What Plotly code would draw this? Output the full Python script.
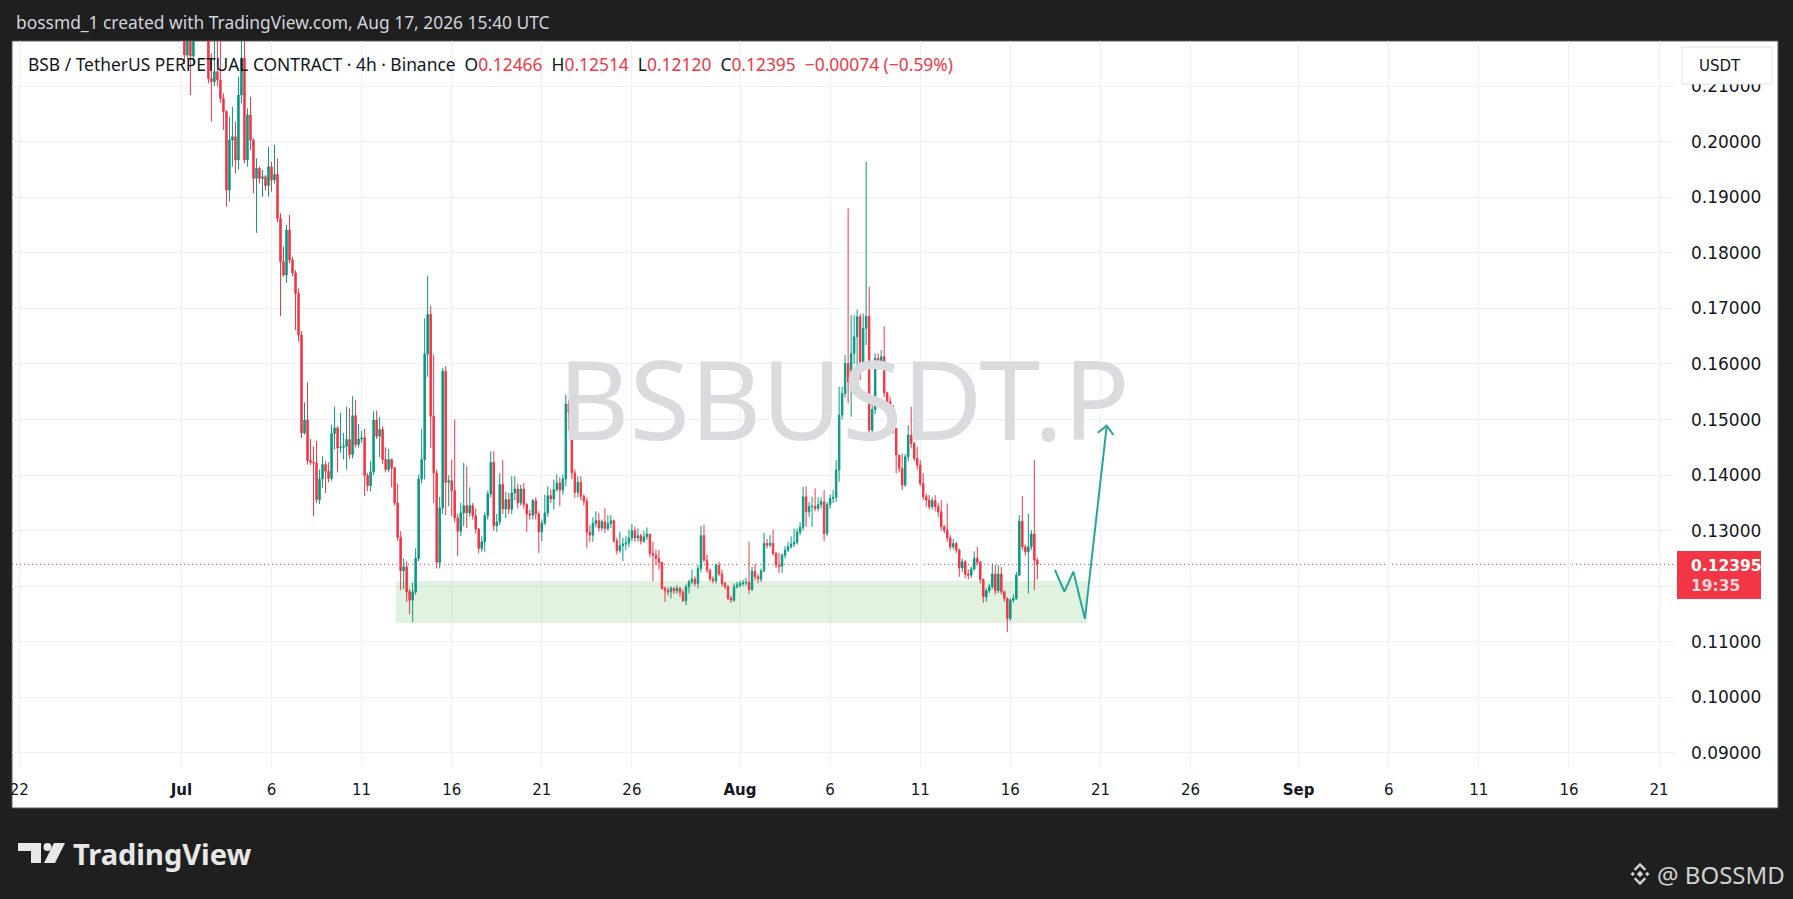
import plotly.graph_objects as go
from datetime import datetime, timedelta

# ---------------- data (4h candles, BSB/USDT perpetual) ----------------
first_candle = "2026-07-01 04:00"
first_open = 0.2230
last_open = 0.12466

closes = [
    0.2156, 0.2200, 0.2154, 0.2240, 0.2290, 0.2260, 0.2250, 0.2230, 0.2114, 0.2108,
    0.2126, 0.2111, 0.2078, 0.2054, 0.1913, 0.2003, 0.2009, 0.1967, 0.2084, 0.2150,
    0.1967, 0.2048, 0.2003, 0.1934, 0.1952, 0.1934, 0.1937, 0.1921, 0.1955, 0.1931,
    0.1941, 0.1862, 0.1784, 0.1760, 0.1841, 0.1787, 0.1764, 0.1727, 0.1652, 0.1476,
    0.1499, 0.1426, 0.1423, 0.1422, 0.1356, 0.1393, 0.1419, 0.1407, 0.1394, 0.1475,
    0.1485, 0.1449, 0.1450, 0.1452, 0.1464, 0.1437, 0.1507, 0.1455, 0.1465, 0.1467,
    0.1399, 0.1381, 0.1406, 0.1499, 0.1470, 0.1482, 0.1428, 0.1410, 0.1428, 0.1413,
    0.1350, 0.1288, 0.1228, 0.1235, 0.1190, 0.1175, 0.1190, 0.1250, 0.1393, 0.1428,
    0.1618, 0.1689, 0.1506, 0.1404, 0.1243, 0.1341, 0.1587, 0.1387, 0.1390, 0.1372,
    0.1323, 0.1299, 0.1332, 0.1345, 0.1332, 0.1345, 0.1327, 0.1303, 0.1268, 0.1280,
    0.1327, 0.1366, 0.1423, 0.1309, 0.1316, 0.1383, 0.1339, 0.1356, 0.1339, 0.1368,
    0.1375, 0.1350, 0.1375, 0.1347, 0.1330, 0.1328, 0.1354, 0.1330, 0.1298, 0.1314,
    0.1332, 0.1363, 0.1357, 0.1374, 0.1386, 0.1373, 0.1393, 0.1528, 0.1512, 0.1404,
    0.1369, 0.1387, 0.1362, 0.1353, 0.1297, 0.1292, 0.1313, 0.1318, 0.1305, 0.1316,
    0.1304, 0.1313, 0.1318, 0.1282, 0.1264, 0.1273, 0.1276, 0.1278, 0.1287, 0.1300,
    0.1287, 0.1291, 0.1281, 0.1289, 0.1294, 0.1259, 0.1256, 0.1250, 0.1243, 0.1196,
    0.1192, 0.1190, 0.1196, 0.1192, 0.1196, 0.1189, 0.1174, 0.1199, 0.1208, 0.1213,
    0.1205, 0.1232, 0.1291, 0.1247, 0.1229, 0.1213, 0.1210, 0.1238, 0.1222, 0.1205,
    0.1199, 0.1178, 0.1175, 0.1199, 0.1202, 0.1205, 0.1206, 0.1207, 0.1194, 0.1227,
    0.1217, 0.1213, 0.1228, 0.1277, 0.1274, 0.1277, 0.1259, 0.1238, 0.1236, 0.1256,
    0.1265, 0.1271, 0.1276, 0.1279, 0.1297, 0.1306, 0.1361, 0.1334, 0.1343, 0.1344,
    0.1340, 0.1347, 0.1352, 0.1295, 0.1347, 0.1358, 0.1360, 0.1409, 0.1508, 0.1547,
    0.1601, 0.1568, 0.1619, 0.1649, 0.1685, 0.1604, 0.1664, 0.1686, 0.1481, 0.1518,
    0.1610, 0.1604, 0.1613, 0.1548, 0.1532, 0.1493, 0.1484, 0.1436, 0.1412, 0.1382,
    0.1433, 0.1472, 0.1457, 0.1430, 0.1418, 0.1385, 0.1361, 0.1355, 0.1343, 0.1354,
    0.1343, 0.1334, 0.1307, 0.1301, 0.1287, 0.1271, 0.1277, 0.1265, 0.1233, 0.1244,
    0.1222, 0.1220, 0.1231, 0.1250, 0.1243, 0.1212, 0.1181, 0.1192, 0.1199, 0.1222,
    0.1192, 0.1222, 0.1190, 0.1178, 0.1142, 0.1175, 0.1178, 0.1220, 0.1317, 0.1271,
    0.1262, 0.1271, 0.1294, 0.12469, 0.12395,
]
highs = [
    0.2250, 0.2240, 0.2230, 0.2270, 0.2330, 0.2310, 0.2290, 0.2270, 0.2250, 0.2159,
    0.2200, 0.2190, 0.2200, 0.2087, 0.2057, 0.2045, 0.2063, 0.2036, 0.2117, 0.2200,
    0.2200, 0.2060, 0.2081, 0.2006, 0.1970, 0.1955, 0.1949, 0.1940, 0.1991, 0.1964,
    0.1994, 0.1970, 0.1871, 0.1811, 0.1850, 0.1868, 0.1793, 0.1769, 0.1736, 0.1659,
    0.1531, 0.1567, 0.1465, 0.1452, 0.1462, 0.1410, 0.1434, 0.1425, 0.1423, 0.1491,
    0.1523, 0.1488, 0.1512, 0.1476, 0.1523, 0.1521, 0.1542, 0.1535, 0.1492, 0.1480,
    0.1483, 0.1404, 0.1425, 0.1515, 0.1516, 0.1505, 0.1488, 0.1450, 0.1447, 0.1430,
    0.1415, 0.1385, 0.1299, 0.1250, 0.1245, 0.1195, 0.1206, 0.1268, 0.1401, 0.1483,
    0.1682, 0.1759, 0.1705, 0.1617, 0.1410, 0.1361, 0.1593, 0.1596, 0.1400, 0.1428,
    0.1500, 0.1330, 0.1350, 0.1422, 0.1416, 0.1378, 0.1350, 0.1340, 0.1305, 0.1290,
    0.1333, 0.1372, 0.1443, 0.1443, 0.1330, 0.1404, 0.1427, 0.1370, 0.1368, 0.1398,
    0.1398, 0.1385, 0.1383, 0.1386, 0.1350, 0.1338, 0.1357, 0.1360, 0.1335, 0.1320,
    0.1365, 0.1380, 0.1374, 0.1392, 0.1401, 0.1396, 0.1401, 0.1545, 0.1536, 0.1512,
    0.1410, 0.1398, 0.1398, 0.1365, 0.1360, 0.1310, 0.1324, 0.1335, 0.1332, 0.1320,
    0.1340, 0.1328, 0.1328, 0.1320, 0.1287, 0.1298, 0.1287, 0.1290, 0.1302, 0.1312,
    0.1307, 0.1304, 0.1295, 0.1300, 0.1306, 0.1294, 0.1280, 0.1266, 0.1265, 0.1244,
    0.1200, 0.1198, 0.1200, 0.1199, 0.1202, 0.1199, 0.1194, 0.1203, 0.1212, 0.1230,
    0.1218, 0.1238, 0.1309, 0.1311, 0.1257, 0.1232, 0.1218, 0.1241, 0.1244, 0.1230,
    0.1208, 0.1202, 0.1183, 0.1205, 0.1208, 0.1210, 0.1212, 0.1215, 0.1280, 0.1235,
    0.1240, 0.1222, 0.1232, 0.1296, 0.1285, 0.1292, 0.1301, 0.1262, 0.1260, 0.1259,
    0.1272, 0.1280, 0.1290, 0.1304, 0.1304, 0.1315, 0.1379, 0.1380, 0.1352, 0.1361,
    0.1376, 0.1360, 0.1360, 0.1373, 0.1352, 0.1365, 0.1373, 0.1427, 0.1559, 0.1559,
    0.1616, 0.1880, 0.1688, 0.1688, 0.1698, 0.1690, 0.1691, 0.1964, 0.1739, 0.1541,
    0.1619, 0.1619, 0.1625, 0.1668, 0.1550, 0.1541, 0.1526, 0.1484, 0.1436, 0.1439,
    0.1438, 0.1490, 0.1523, 0.1460, 0.1451, 0.1427, 0.1403, 0.1367, 0.1364, 0.1360,
    0.1364, 0.1350, 0.1355, 0.1310, 0.1349, 0.1292, 0.1285, 0.1280, 0.1268, 0.1250,
    0.1247, 0.1230, 0.1236, 0.1263, 0.1271, 0.1246, 0.1214, 0.1196, 0.1204, 0.1241,
    0.1238, 0.1238, 0.1235, 0.1192, 0.1180, 0.1178, 0.1185, 0.1226, 0.1328, 0.1362,
    0.1275, 0.1330, 0.1301, 0.1427, 0.12514,
]
lows = [
    0.2140, 0.2150, 0.2084, 0.2140, 0.2225, 0.2230, 0.2215, 0.2200, 0.2105, 0.2036,
    0.2100, 0.2100, 0.2070, 0.2021, 0.1883, 0.1892, 0.1955, 0.1943, 0.1950, 0.2070,
    0.1961, 0.1955, 0.1985, 0.1907, 0.1836, 0.1925, 0.1901, 0.1912, 0.1901, 0.1910,
    0.1925, 0.1855, 0.1686, 0.1757, 0.1746, 0.1781, 0.1758, 0.1661, 0.1640, 0.1467,
    0.1473, 0.1419, 0.1418, 0.1326, 0.1350, 0.1348, 0.1377, 0.1368, 0.1387, 0.1390,
    0.1446, 0.1405, 0.1440, 0.1428, 0.1410, 0.1429, 0.1430, 0.1450, 0.1450, 0.1458,
    0.1362, 0.1371, 0.1371, 0.1400, 0.1465, 0.1432, 0.1420, 0.1405, 0.1405, 0.1378,
    0.1345, 0.1282, 0.1193, 0.1195, 0.1172, 0.1150, 0.1136, 0.1185, 0.1245, 0.1385,
    0.1392, 0.1577, 0.1449, 0.1350, 0.1232, 0.1232, 0.1330, 0.1328, 0.1344, 0.1326,
    0.1315, 0.1254, 0.1290, 0.1308, 0.1305, 0.1325, 0.1320, 0.1295, 0.1259, 0.1262,
    0.1262, 0.1320, 0.1360, 0.1300, 0.1298, 0.1310, 0.1330, 0.1323, 0.1330, 0.1330,
    0.1355, 0.1340, 0.1345, 0.1340, 0.1298, 0.1320, 0.1320, 0.1320, 0.1260, 0.1281,
    0.1310, 0.1325, 0.1350, 0.1338, 0.1370, 0.1344, 0.1365, 0.1380, 0.1480, 0.1393,
    0.1359, 0.1360, 0.1355, 0.1345, 0.1269, 0.1280, 0.1280, 0.1306, 0.1298, 0.1300,
    0.1296, 0.1300, 0.1305, 0.1278, 0.1257, 0.1260, 0.1245, 0.1265, 0.1270, 0.1281,
    0.1280, 0.1280, 0.1275, 0.1278, 0.1283, 0.1252, 0.1209, 0.1238, 0.1230, 0.1194,
    0.1172, 0.1183, 0.1178, 0.1186, 0.1186, 0.1181, 0.1172, 0.1166, 0.1187, 0.1203,
    0.1200, 0.1196, 0.1225, 0.1244, 0.1224, 0.1209, 0.1205, 0.1205, 0.1218, 0.1200,
    0.1195, 0.1175, 0.1170, 0.1172, 0.1196, 0.1198, 0.1200, 0.1201, 0.1186, 0.1192,
    0.1210, 0.1205, 0.1208, 0.1225, 0.1268, 0.1270, 0.1255, 0.1233, 0.1224, 0.1224,
    0.1250, 0.1262, 0.1268, 0.1270, 0.1275, 0.1292, 0.1300, 0.1307, 0.1325, 0.1307,
    0.1335, 0.1335, 0.1340, 0.1281, 0.1290, 0.1340, 0.1350, 0.1352, 0.1388, 0.1500,
    0.1540, 0.1529, 0.1505, 0.1600, 0.1592, 0.1571, 0.1600, 0.1634, 0.1469, 0.1469,
    0.1510, 0.1590, 0.1595, 0.1540, 0.1523, 0.1485, 0.1475, 0.1403, 0.1405, 0.1373,
    0.1379, 0.1425, 0.1448, 0.1425, 0.1410, 0.1380, 0.1355, 0.1343, 0.1338, 0.1338,
    0.1335, 0.1325, 0.1300, 0.1295, 0.1280, 0.1265, 0.1266, 0.1260, 0.1217, 0.1226,
    0.1215, 0.1212, 0.1215, 0.1228, 0.1238, 0.1205, 0.1170, 0.1172, 0.1188, 0.1195,
    0.1185, 0.1188, 0.1185, 0.1172, 0.1118, 0.1138, 0.1170, 0.1175, 0.1218, 0.1265,
    0.1255, 0.1187, 0.1265, 0.1193, 0.12120,
]

header_text = "bossmd_1 created with TradingView.com, Aug 17, 2026 15:40 UTC"
symbol_text = "BSB / TetherUS PERPETUAL CONTRACT · 4h · Binance"
watermark_text = "BSBUSDT.P"
currency_text = "USDT"
countdown_text = "19:35"

x_tick_dates = ["2026-06-22", "2026-07-01", "2026-07-06", "2026-07-11", "2026-07-16",
                "2026-07-21", "2026-07-26", "2026-08-01", "2026-08-06", "2026-08-11",
                "2026-08-16", "2026-08-21", "2026-08-26", "2026-09-01", "2026-09-06",
                "2026-09-11", "2026-09-16", "2026-09-21"]
x_tick_labels = ["22", "<b>Jul</b>", "6", "11", "16", "21", "26", "<b>Aug</b>", "6", "11",
                 "16", "21", "26", "<b>Sep</b>", "6", "11", "16", "21"]
y_tick_values = [0.09, 0.10, 0.11, 0.12, 0.13, 0.14, 0.15, 0.16, 0.17, 0.18, 0.19, 0.20, 0.21]

zone_start, zone_end = "2026-07-12 21:50", "2026-08-20 06:30"
zone_top, zone_bottom = 0.12095, 0.11339

path_times = ["2026-08-18 11:30", "2026-08-19 00:00", "2026-08-19 12:00",
              "2026-08-20 03:22", "2026-08-21 08:24"]
path_prices = [0.12293, 0.11902, 0.12262, 0.11416, 0.14889]
head_times = ["2026-08-20 20:24", "2026-08-21 08:24", "2026-08-21 17:17"]
head_prices = [0.14763, 0.14889, 0.14722]

x_range = ["2026-06-21 14:24", "2026-09-21 22:34"]
y_range = [0.087475, 0.218121]

# ---------------- derived ----------------
assert len(closes) == len(highs) == len(lows)
t0 = datetime.strptime(first_candle, "%Y-%m-%d %H:%M")
times = [t0 + timedelta(hours=4 * i) for i in range(len(closes))]
opens = [first_open] + closes[:-1]
opens[-1] = last_open
prev_close = closes[-2]
chg = closes[-1] - prev_close
pct = chg / prev_close * 100


def signed(v, nd):
    return f"{v:+.{nd}f}".replace("-", "\u2212")


UP, DOWN = "#089981", "#f23645"
TXT = "#131722"
FONT = "Noto Sans"
AXF = "DejaVu Sans"
W, H = 1793, 899
PL, PR, PT, PB = 12, 1676, 41, 767


def px(x):
    return (x - PL) / (PR - PL)


def py(y):
    return (PB - y) / (PB - PT)


def poly(pts, close=True):
    s = "M " + " L ".join(f"{px(a):.6f},{py(b):.6f}" for a, b in pts)
    return s + (" Z" if close else "")


fig = go.Figure()

# watermark centred in the pane
t_lo = datetime.strptime(x_range[0], "%Y-%m-%d %H:%M")
t_hi = datetime.strptime(x_range[1], "%Y-%m-%d %H:%M")
fig.add_trace(go.Scatter(
    x=[t_lo + (t_hi - t_lo) / 2], y=[(y_range[0] + y_range[1]) / 2 - 0.0015],
    mode="text", text=[watermark_text], textposition="middle center",
    textfont=dict(family=FONT, size=110, color="#dadbde"),
    hoverinfo="skip", showlegend=False, cliponaxis=True))

fig.add_trace(go.Candlestick(
    x=times, open=opens, high=highs, low=lows, close=closes,
    increasing=dict(line=dict(color=UP, width=1), fillcolor=UP),
    decreasing=dict(line=dict(color=DOWN, width=1), fillcolor=DOWN),
    whiskerwidth=0, hoverinfo="skip", showlegend=False))

fig.add_trace(go.Scatter(x=path_times, y=path_prices, mode="lines",
                         line=dict(color="#26a69a", width=2), hoverinfo="skip", showlegend=False))
fig.add_trace(go.Scatter(x=head_times, y=head_prices, mode="lines",
                         line=dict(color="#26a69a", width=2), hoverinfo="skip", showlegend=False))

shapes = [
    # white chart frame
    dict(type="rect", xref="paper", yref="paper", x0=px(12), x1=px(1778), y0=py(808), y1=py(41),
         fillcolor="#ffffff", line=dict(color="#5d5d5d", width=1), layer="below"),
    # support zone
    dict(type="rect", xref="x", yref="y", x0=zone_start, x1=zone_end, y0=zone_bottom, y1=zone_top,
         fillcolor="rgba(76,175,80,0.17)", line=dict(width=0), layer="between"),
    # last price line
    dict(type="line", xref="paper", yref="y", x0=0, x1=1, y0=closes[-1], y1=closes[-1],
         line=dict(color=DOWN, width=1, dash="1px,3px"), layer="between"),
    # price label box
    dict(type="rect", xref="paper", yref="paper", x0=px(1677), x1=px(1761), y0=py(599), y1=py(551),
         fillcolor=DOWN, line=dict(width=0), layer="above"),
    # currency button
    dict(type="rect", xref="paper", yref="paper", x0=px(1682), x1=px(1772), y0=py(84), y1=py(47),
         fillcolor="#ffffff", line=dict(color="#e0e3eb", width=1), layer="above"),
    # TradingView logo
    dict(type="path", xref="paper", yref="paper", layer="above", fillcolor="#e8e8e8", line=dict(width=0),
         path=poly([(18, 843), (41, 843), (41, 863), (31, 863), (31, 851), (18, 851)])),
    dict(type="circle", xref="paper", yref="paper", layer="above", fillcolor="#e8e8e8", line=dict(width=0),
         x0=px(43.5), x1=px(51.5), y0=py(851), y1=py(843)),
    dict(type="path", xref="paper", yref="paper", layer="above", fillcolor="#e8e8e8", line=dict(width=0),
         path=poly([(54, 843), (65, 843), (55, 863), (44, 863)])),
]
# Binance mark
cx, cy = 1640, 874
for (dx, dy, r) in [(0, 0, 3.2), (-7.3, 0, 2.2), (7.3, 0, 2.2)]:
    shapes.append(dict(type="path", xref="paper", yref="paper", layer="above", fillcolor="#d0d0d0",
                       line=dict(width=0),
                       path=poly([(cx + dx, cy + dy - r), (cx + dx + r, cy + dy), (cx + dx, cy + dy + r),
                                  (cx + dx - r, cy + dy)])))
for sgn in (-1, 1):
    shapes.append(dict(type="path", xref="paper", yref="paper", layer="above",
                       line=dict(color="#d0d0d0", width=2.4),
                       path=poly([(cx - 5.3, cy + sgn * 4.2), (cx, cy + sgn * 9.5), (cx + 5.3, cy + sgn * 4.2)],
                                 close=False)))

red = f"<span style='color:{DOWN}'>"
title_html = (f"{symbol_text}\u00a0\u00a0O{red}{opens[-1]:.5f}</span>\u00a0\u00a0H{red}{highs[-1]:.5f}</span>"
              f"\u00a0\u00a0L{red}{lows[-1]:.5f}</span>\u00a0\u00a0C{red}{closes[-1]:.5f}</span>"
              f"\u00a0\u00a0{red}{signed(chg, 5)} ({signed(pct, 2)}%)</span>")
price_label = (f"<b>{closes[-1]:.5f}</b><br>"
               f"<span style='color:rgba(255,255,255,0.82)'><b>{countdown_text}</b></span>")

annotations = [
    dict(text=header_text, x=px(14), y=py(22), xanchor="left", yanchor="middle",
         font=dict(family=FONT, size=17.4, color="#d1d4dc")),
    dict(text=title_html, x=px(26), y=py(64), xanchor="left", yanchor="middle",
         font=dict(family=FONT, size=17.4, color=TXT)),
    dict(text=currency_text, x=px(1697), y=py(66), xanchor="left", yanchor="middle",
         font=dict(family=AXF, size=15, color=TXT)),
    dict(text=price_label, x=px(1689), y=py(575.5), xanchor="left", yanchor="middle", align="left",
         font=dict(family=AXF, size=15.5, color="#ffffff")),
    dict(text="<b>TradingView</b>", x=px(71), y=py(853), xanchor="left", yanchor="middle",
         font=dict(family=FONT, size=29, color="#e8e8e8")),
    dict(text="@ BOSSMD", x=px(1655), y=py(874), xanchor="left", yanchor="middle",
         font=dict(family=FONT, size=24, color="#d0d0d0")),
]
for a in annotations:
    a.update(xref="paper", yref="paper", showarrow=False)

# the axis label that sits under the last-price box is hidden, as on the original chart
y_tick_text = ["" if abs(v - closes[-1]) < 0.0045 else f"{v:.5f}" for v in y_tick_values]

fig.update_layout(
    template="none", width=W, height=H,
    margin=dict(l=PL, r=W - PR, t=PT, b=H - PB, pad=0),
    paper_bgcolor="#1f1f1f", plot_bgcolor="#ffffff",
    showlegend=False, hovermode=False,
    shapes=shapes, annotations=annotations,
    xaxis=dict(type="date", range=x_range, tickvals=x_tick_dates, ticktext=x_tick_labels,
               showgrid=True, gridcolor="#eef0f4", gridwidth=1, ticks="", ticklen=0,
               tickfont=dict(family=AXF, size=15, color=TXT), showline=False, zeroline=False,
               rangeslider=dict(visible=False), ticklabelstandoff=12, automargin=False),
    yaxis=dict(side="right", range=y_range, tickvals=y_tick_values, ticktext=y_tick_text,
               showgrid=True, gridcolor="#eef0f4", gridwidth=1, ticks="", ticklen=0,
               tickfont=dict(family=AXF, size=17, color=TXT), showline=False, zeroline=False,
               ticklabelstandoff=14, automargin=False),
)

fig.write_html("out.html", config={"displayModeBar": False, "staticPlot": True},
               post_script="document.body.style.margin='0';document.body.style.overflow='hidden';"
                           "document.body.style.background='#1f1f1f';")
